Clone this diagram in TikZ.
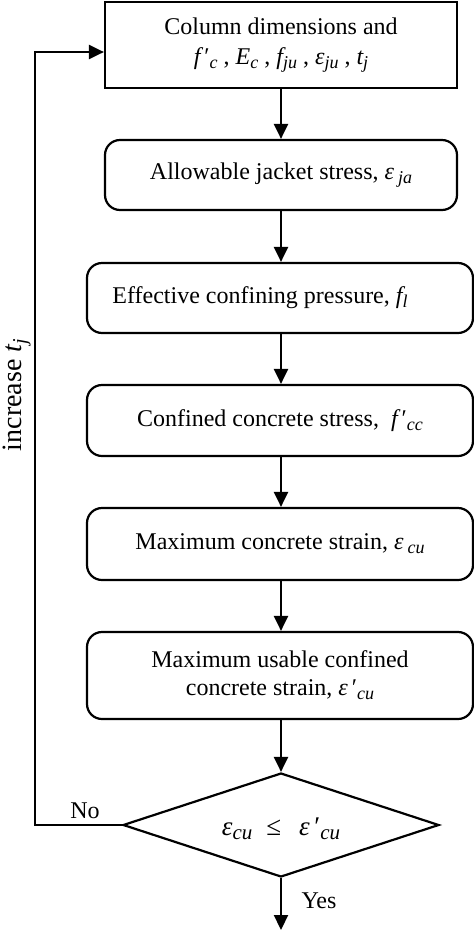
\documentclass[tikz,border=0pt]{standalone}
\usepackage{fontspec}
\setmainfont{Liberation Serif}
\usetikzlibrary{shapes.geometric,arrows.meta}
\newcommand\sbs[1]{\raisebox{-0.35ex}{\fontsize{18}{18}\selectfont\itshape #1}}
\newcommand\vi[1]{{\itshape #1}}
\begin{document}
\begin{tikzpicture}[x=1pt,y=-1pt,
  every node/.style={font=\fontsize{24}{34}\selectfont, inner sep=0pt},
  arr/.style={line width=2.2pt,-{Triangle[length=15pt,width=14pt]}},
  sqbox/.style={draw,line width=2.2pt,rectangle,minimum width=352pt,minimum height=86pt,align=center},
  rbox/.style={draw,line width=2.2pt,rectangle,rounded corners=15pt,minimum width=386pt,minimum height=70pt,align=center},
  dec/.style={draw,line width=2.2pt,diamond,aspect=3.04,minimum width=316pt,minimum height=104pt}
]
\path[use as bounding box] (0,0) rectangle (474,930);
\node[sqbox] (top) at (281,45) {Column dimensions and\\[-4pt]
  \vi{f}\,′\sbs{c} , \vi{E}\sbs{c} , \vi{f}\sbs{ju} , \vi{ε}\sbs{ju} , \vi{t}\sbs{j}};
\node[rbox,minimum width=352pt] (a2) at (281,175) {Allowable jacket stress, \vi{ε}\,\sbs{ja}};
\node[rbox] (a3) at (280,298) {};
\node (a3t) at ([xshift=-20pt]a3.center) {Effective confining pressure, \vi{f}\sbs{l}};
\node[rbox,minimum height=71pt] (a4) at (280,420.5) {Confined concrete stress, \ \vi{f}\,′\sbs{cc}};
\node[rbox,minimum height=72pt] (a5) at (280,544) {Maximum concrete strain, \vi{ε}\,\sbs{cu}};
\node[rbox,minimum height=87pt] (a6) at (280,675.5) {Maximum usable confined\\[-6pt]
  concrete strain, \vi{ε}\,′\sbs{cu}};
\node[dec] (d) at (281,825) {};
\node (dt) at (281,829) {\fontsize{27}{30}\selectfont\vi{ε}\raisebox{-0.3ex}{\fontsize{21}{21}\selectfont\itshape cu}\hspace{14pt}≤\hspace{18pt}\vi{ε}\,′\raisebox{-0.3ex}{\fontsize{21}{21}\selectfont\itshape cu}};
\coordinate (c1) at (35,825);
\coordinate (cend) at (281,930);
\node (no) at (85,811) {No};
\node (yes) at (319,901) {Yes};
\node[rotate=90,font=\fontsize{28}{30}\selectfont] (inc) at (17,395) {increase \vi{t}\raisebox{-0.35ex}{\fontsize{20}{20}\selectfont\itshape j}};
\draw[arr] (top.south -| a2.north) -- (a2.north);
\draw[arr] (a2.south) -- (a2.south |- a3.north);
\draw[arr] (a3.south -| a2.south) -- (a2.south |- a4.north);
\draw[arr] (a4.south -| a2.south) -- (a2.south |- a5.north);
\draw[arr] (a5.south -| a2.south) -- (a2.south |- a6.north);
\draw[arr] (a6.south -| d.north) -- (d.north);
\draw[arr] (d.south) -- (cend);
\draw[arr] (d.west) -- (c1) |- ([yshift=-7pt]top.west);
\end{tikzpicture}
\end{document}
